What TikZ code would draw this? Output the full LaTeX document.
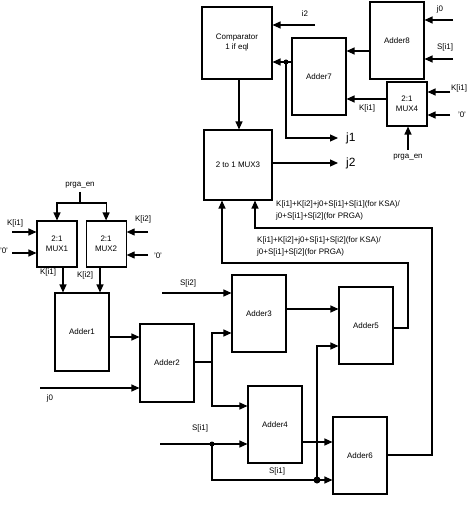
\documentclass[tikz,border=0pt]{standalone}
\usepackage{fontspec}
\setmainfont{Liberation Sans}
\usetikzlibrary{positioning, arrows.meta}

\begin{document}
\begin{tikzpicture}[
    x=1bp, y=-1bp,
    block/.style={rectangle, draw, line width=1.1pt, minimum width=54bp, minimum height=77bp, align=center, font=\fontsize{8}{10}\selectfont, inner sep=1pt},
    muxbox/.style={block, minimum width=40bp, minimum height=45bp},
    wire/.style={line width=1.1pt},
    arr/.style={wire, -{Triangle[length=8pt, width=7pt]}},
    siglabel/.style={font=\fontsize{8}{10}\selectfont, inner sep=0pt},
    sumlabel/.style={font=\fontsize{8}{12}\selectfont, inner sep=0pt, anchor=west, align=left},
    outlabel/.style={font=\fontsize{12}{14}\selectfont, inner sep=0pt}
]
\useasboundingbox (0,0) rectangle (474,526);

% Top part: comparator and adders 7/8
\node[block, minimum width=70bp, minimum height=72bp] (cmp) at (237,43) {Comparator\\1 if eql};
\node[block] (add8) at (397,40.5) {Adder8};
\node[block] (add7) at (319,76.5) {Adder7};
\node[muxbox, minimum height=44bp] (mux4) at (407,104) {2:1\\MUX4};
\node[block, minimum width=68bp, minimum height=70bp] (mux3) at (238,165) {2 to 1 MUX3};

% Left part: input muxes
\node[muxbox, minimum height=46bp] (mux1) at (57,244) {2:1\\MUX1};
\node[muxbox, minimum height=46bp, right=8bp of mux1] (mux2) {2:1\\MUX2};

% Adder chain
\node[block, minimum height=78bp] (add1) at (82,332) {Adder1};
\node[block, minimum height=78bp] (add2) at (167,363) {Adder2};
\node[block] (add3) at (259,313.5) {Adder3};
\node[block] (add5) at (366,325.5) {Adder5};
\node[block] (add4) at (275,424.5) {Adder4};
\node[block] (add6) at (360,455.5) {Adder6};

% Free ends and junctions
\coordinate (i2in) at (315,25);
\coordinate (j0top) at (453,20);
\coordinate (sitop) at (453,59);
\coordinate (tap7) at (286,62);
\coordinate (j1end) at (338,138);
\coordinate (k4in) at (450,92);
\coordinate (z4in) at (450,115);
\coordinate (prga4) at (408,150);
\coordinate (j2end) at (338,163);
\coordinate (prga12) at (80,192);
\coordinate (split12) at (80,203);
\coordinate (k1in) at (12,232);
\coordinate (z1in) at (12,253);
\coordinate (k2in) at (148,232);
\coordinate (z2in) at (148,255);
\coordinate (j0in) at (40,388);
\coordinate (jn2) at (212,362);
\coordinate (s2in) at (162,293);
\coordinate (siin) at (160,444);
\coordinate (tapS) at (212,444);
\coordinate (tapS2) at (317,480);
\coordinate (fb5) at (408,263);
\coordinate (fb6) at (432,228);

% Top connections
\draw[arr] (i2in) -- (i2in -| cmp.east);
\draw[arr] (j0top) -- (j0top -| add8.east);
\draw[arr] (sitop) -- (sitop -| add8.east);
\draw[arr] (add8.west |- 0,51) -- (add7.east |- 0,51);
\draw[wire] (add7.west |- tap7) -- (tap7);
\draw[arr] (tap7) -- (tap7 -| cmp.east);
\draw[arr] (tap7) |- (j1end);
\fill (tap7) circle (2.5bp);
\draw[arr] (mux4.west |- 0,99) -- (add7.east |- 0,99);
\draw[arr] (k4in) -- (k4in -| mux4.east);
\draw[arr] (z4in) -- (z4in -| mux4.east);
\draw[arr] (prga4) -- (prga4 |- mux4.south);
\draw[arr] (cmp.south -| 239,0) -- (mux3.north -| 239,0);
\draw[arr] (mux3.east |- j2end) -- (j2end);

% Left connections
\draw[wire] (prga12) -- (split12);
\draw[arr] (split12) -| (mux1.north);
\draw[arr] (split12) -| (mux2.north);
\draw[arr] (k1in) -- (k1in -| mux1.west);
\draw[arr] (z1in) -- (z1in -| mux1.west);
\draw[arr] (k2in) -- (k2in -| mux2.east);
\draw[arr] (z2in) -- (z2in -| mux2.east);
\draw[arr] (mux1.south -| 63,0) -- (add1.north -| 63,0);
\draw[arr] (mux2.south -| 100,0) -- (add1.north -| 100,0);

% Adder connections
\draw[arr] (add1.east |- 0,337) -- (add2.west |- 0,337);
\draw[arr] (j0in) -- (j0in -| add2.west);
\draw[wire] (add2.east |- jn2) -- (jn2);
\draw[arr] (jn2) |- (add3.west |- 0,333);
\draw[arr] (jn2) |- (add4.west |- 0,406);
\draw[arr] (s2in) -- (s2in -| add3.west);
\draw[arr] (add3.east |- 0,309) -- (add5.west |- 0,309);
\draw[wire] (siin) -- (tapS);
\draw[arr] (tapS) -- (tapS -| add4.west);
\draw[wire] (tapS) |- (tapS2);
\draw[arr] (tapS2) -- (tapS2 -| add6.west);
\draw[arr] (tapS2) |- (add5.west |- 0,346);
\draw[arr] (add4.east |- 0,442) -- (add6.west |- 0,442);
\fill (tapS) circle (2.5bp);
\fill (tapS2) circle (3.5bp);

% Feedback into MUX3
\draw[arr] (add5.east |- 0,328) -| (fb5) -| (mux3.south -| 222,0);
\draw[arr] (add6.east |- 0,455) -| (fb6) -| (mux3.south -| 255,0);

% Signal labels
\node[siglabel] (lbli2) at (305,14) {i2};
\node[siglabel] (lblj0top) at (440,9) {j0};
\node[siglabel] (lblsitop) at (445,47) {S[i1]};
\node[siglabel] (lblk4) at (367,108) {K[i1]};
\node[siglabel] (lblk4in) at (459,88) {K[i1]};
\node[siglabel] (lblz4in) at (462,115) {'0'};
\node[siglabel, below=4bp of prga4] (lblprga4) {prga\_en};
\node[outlabel, right=8bp of j1end] (lblj1) {j1};
\node[outlabel, right=8bp of j2end] (lblj2) {j2};
\node[siglabel, above=4bp of prga12] (lblprga12) {prga\_en};
\node[siglabel] (lblk1in) at (15,223) {K[i1]};
\node[siglabel] (lblz1in) at (4,251) {'0'};
\node[siglabel] (lblk2in) at (143,219) {K[i2]};
\node[siglabel] (lblz2in) at (158,256) {'0'};
\node[siglabel] (lblk1) at (48,272) {K[i1]};
\node[siglabel] (lblk2) at (85,275) {K[i2]};
\node[siglabel] (lbls2) at (188,283) {S[i2]};
\node[siglabel] (lblj0) at (50,398) {j0};
\node[siglabel] (lblsi) at (200,428) {S[i1]};
\node[siglabel] (lblsi2) at (277,471) {S[i1]};
\node[sumlabel] (lblsum6) at (276,210) {K[i1]+K[i2]+j0+S[i1]+S[i1](for KSA)/\\j0+S[i1]+S[i2](for PRGA)};
\node[sumlabel] (lblsum5) at (257,246) {K[i1]+K[i2]+j0+S[i1]+S[i2](for KSA)/\\j0+S[i1]+S[i2](for PRGA)};

\end{tikzpicture}
\end{document}
